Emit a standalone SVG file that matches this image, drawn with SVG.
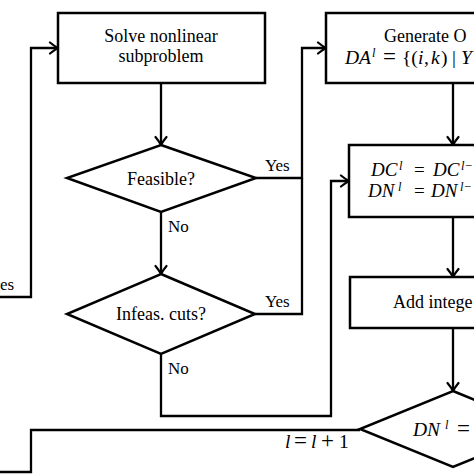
<svg xmlns="http://www.w3.org/2000/svg" width="474" height="474" viewBox="0 0 474 474">
<defs>
<marker id="arr" markerUnits="userSpaceOnUse" markerWidth="14" markerHeight="14" viewBox="-11 -7 13 14" refX="0" refY="0" orient="auto">
<path d="M-8,-5.5 C-5,-3 -1.5,-0.8 0,0 C-1.5,0.8 -5,3 -8,5.5" fill="none" stroke="#000" stroke-width="2.2" stroke-linecap="round"/>
</marker>
</defs>
<style>
.n{fill:#fff;stroke:#000;stroke-width:2.5}
.c{fill:none;stroke:#000;stroke-width:2.3}
.a{marker-end:url(#arr)}
text{font-family:"Liberation Serif","DejaVu Serif",serif;fill:#000}
.t{font-size:18px}
.l{font-size:17px}
.m{font-size:19.5px}
.i{font-style:italic}
.s{font-size:12.5px;font-style:italic}
.e{font-size:23px}
.u{font-size:19px}
.u .e{font-size:19px}
</style>
<rect width="474" height="474" fill="#fff"/>
<g id="connectors">
<path class="c a" d="M161,83 V145"/>
<path class="c a" d="M161,212 V274"/>
<path class="c a" d="M256,178 H302 V48 H326"/>
<path class="c" d="M255,314 H302 V178"/>
<path class="c a" d="M161,354 V416 H331 V181 H349"/>
<path class="c a" d="M453,83 V145"/>
<path class="c a" d="M453,217 V277"/>
<path class="c a" d="M453,328 V391"/>
<path class="c" d="M360,430 H31 V472 H-10"/>
<path class="c a" d="M-10,297 H31 V48 H58"/>
<text class="l" x="265" y="171">Yes</text>
<text class="l" x="168" y="232">No</text>
<text class="l" x="265" y="307">Yes</text>
<text class="l" x="168" y="374">No</text>
<text class="l" x="0" y="290">es</text>
<text class="m" y="448"><tspan class="i" x="285">l</tspan><tspan class="e" x="294">=</tspan><tspan class="i" x="311">l</tspan><tspan class="e" x="321">+</tspan><tspan x="339">1</tspan></text>
</g>
<g id="solve">
<rect class="n" x="58" y="13" width="207" height="70"/>
<text class="t" x="161" y="42" text-anchor="middle">Solve nonlinear</text>
<text class="t" x="161" y="62" text-anchor="middle">subproblem</text>
</g>
<g id="feasible">
<polygon class="n" points="161,145 256,178 161,212 67,178"/>
<text class="t" x="161" y="185" text-anchor="middle">Feasible?</text>
</g>
<g id="infeas">
<polygon class="n" points="161,274 255,314 161,354 67,314"/>
<text class="t" x="161" y="320" text-anchor="middle">Infeas. cuts?</text>
</g>
<g id="generate">
<rect class="n" x="326" y="13" width="220" height="70"/>
<text class="t" x="384" y="42">Generate O</text>
<text class="m" y="64"><tspan class="i" x="345">DA</tspan><tspan class="s" x="372" y="57">l</tspan><tspan class="e" x="383" y="64">=</tspan><tspan x="402">{(</tspan><tspan class="i" x="418">i</tspan><tspan x="424">,</tspan><tspan class="i" x="431">k</tspan><tspan x="441">)</tspan><tspan x="452">|</tspan><tspan class="i" x="461">Y</tspan></text>
</g>
<g id="update">
<rect class="n" x="349" y="145" width="220" height="72"/>
<text class="m u" y="175.5"><tspan class="i" x="371">DC</tspan><tspan class="s" x="399" y="169.5">l</tspan><tspan class="e" x="414" y="175.5">=</tspan><tspan class="i" x="433">DC</tspan><tspan class="s" x="461" y="169.5">l</tspan><tspan font-size="12.5" x="465">−</tspan></text>
<text class="m u" y="196.5"><tspan class="i" x="368">DN</tspan><tspan class="s" x="398" y="191">l</tspan><tspan class="e" x="414" y="196.5">=</tspan><tspan class="i" x="431">DN</tspan><tspan class="s" x="460" y="191">l</tspan><tspan font-size="12.5" x="464">−</tspan></text>
</g>
<g id="addint">
<rect class="n" x="350" y="277" width="220" height="51"/>
<text class="t" x="393" y="308">Add intege</text>
</g>
<g id="checkdn">
<polygon class="n" points="453,391 546,429 453,467 360,429"/>
<text class="m" y="436" font-size="20.5"><tspan class="i" x="413">DN</tspan><tspan class="s" x="445" y="429">l</tspan><tspan class="e" x="457" y="436">=</tspan></text>
</g>
</svg>
